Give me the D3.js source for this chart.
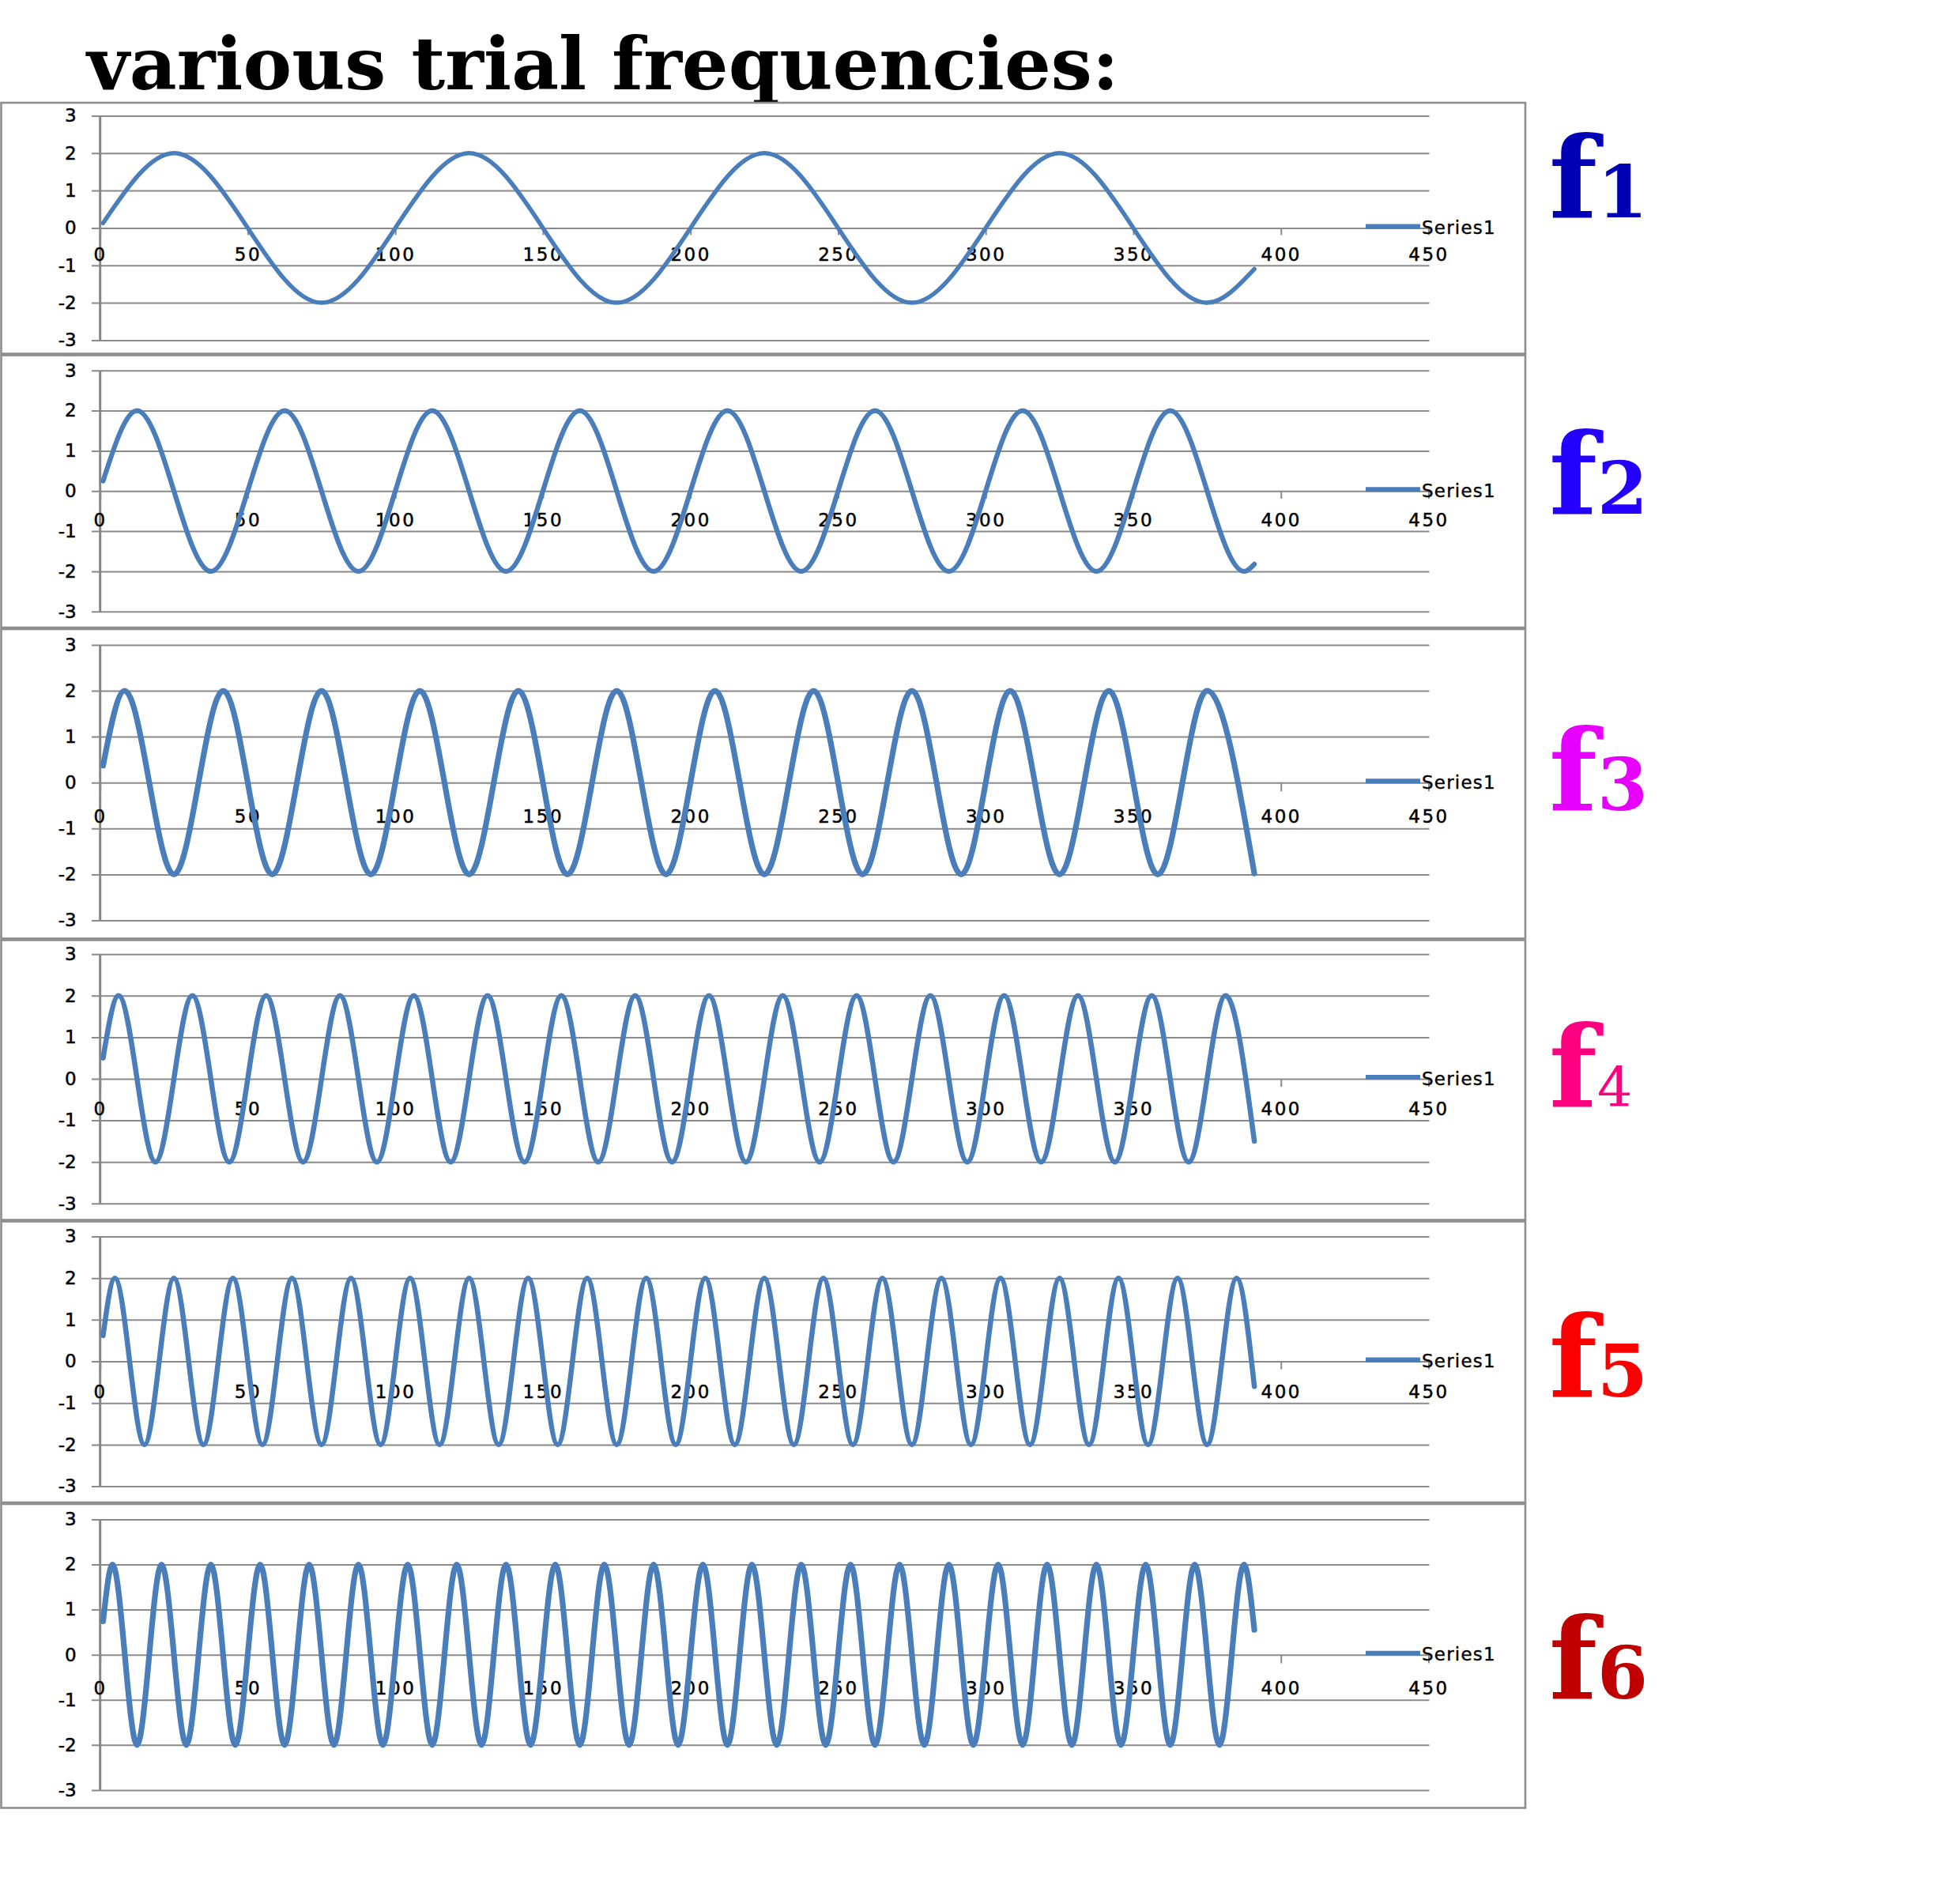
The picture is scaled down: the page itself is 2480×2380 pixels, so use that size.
<!DOCTYPE html>
<html><head><meta charset="utf-8">
<script src="https://cdn.jsdelivr.net/npm/d3@7"></script>
<style>html,body{margin:0;padding:0;background:#fff;} svg{display:block}</style>
</head><body>
<svg id="chart" width="2480" height="2380"></svg>
<script>
// ---------------- DATA ----------------
const titleText = "various trial frequencies:";
const xTickValues = [0, 50, 100, 150, 200, 250, 300, 350, 400, 450];
const yTickValues = [-3, -2, -1, 0, 1, 2, 3];
const seriesName = "Series1";
const panelLetter = "f";
const panelDigits = ["1", "2", "3", "4", "5", "6"];

// key points: start, every crest/trough, end
const f1X = [1, 25, 75, 125, 175, 225, 275, 325, 375, 391];
const f1Y = [0.13, 2, -2, 2, -2, 2, -2, 2, -2, -1.1];

const f2X = [1, 12.5, 37.5, 62.5, 87.5, 112.5, 137.5, 162.5, 187.5, 212.5, 237.5, 262.5, 287.5, 312.5, 337.5, 362.5, 387.5, 391];
const f2Y = [0.25, 2, -2, 2, -2, 2, -2, 2, -2, 2, -2, 2, -2, 2, -2, 2, -2, -1.82];

const f3X = [1, 8.3, 25, 41.7, 58.3, 75, 91.7, 108.3, 125, 141.7, 158.3, 175, 191.7, 208.3, 225, 241.7, 258.3, 275, 291.7, 308.3, 325, 341.7, 358.3, 375, 391];
const f3Y = [0.37, 2, -2, 2, -2, 2, -2, 2, -2, 2, -2, 2, -2, 2, -2, 2, -2, 2, -2, 2, -2, 2, -2, 2, -1.98];

const f4X = [1, 6.25, 18.75, 31.25, 43.75, 56.25, 68.75, 81.25, 93.75, 106.25, 118.75, 131.25, 143.75, 156.25, 168.75, 181.25, 193.75, 206.25, 218.75, 231.25, 243.75, 256.25, 268.75, 281.25, 293.75, 306.25, 318.75, 331.25, 343.75, 356.25, 368.75, 381.25, 391];
const f4Y = [0.5, 2, -2, 2, -2, 2, -2, 2, -2, 2, -2, 2, -2, 2, -2, 2, -2, 2, -2, 2, -2, 2, -2, 2, -2, 2, -2, 2, -2, 2, -2, 2, -1.5];

const f5X = [1, 5, 15, 25, 35, 45, 55, 65, 75, 85, 95, 105, 115, 125, 135, 145, 155, 165, 175, 185, 195, 205, 215, 225, 235, 245, 255, 265, 275, 285, 295, 305, 315, 325, 335, 345, 355, 365, 375, 385, 391];
const f5Y = [0.62, 2, -2, 2, -2, 2, -2, 2, -2, 2, -2, 2, -2, 2, -2, 2, -2, 2, -2, 2, -2, 2, -2, 2, -2, 2, -2, 2, -2, 2, -2, 2, -2, 2, -2, 2, -2, 2, -2, 2, -0.6];

const f6X = [1, 4.2, 12.5, 20.8, 29.2, 37.5, 45.8, 54.2, 62.5, 70.8, 79.2, 87.5, 95.8, 104.2, 112.5, 120.8, 129.2, 137.5, 145.8, 154.2, 162.5, 170.8, 179.2, 187.5, 195.8, 204.2, 212.5, 220.8, 229.2, 237.5, 245.8, 254.2, 262.5, 270.8, 279.2, 287.5, 295.8, 304.2, 312.5, 320.8, 329.2, 337.5, 345.8, 354.2, 362.5, 370.8, 379.2, 387.5, 391];
const f6Y = [0.74, 2, -2, 2, -2, 2, -2, 2, -2, 2, -2, 2, -2, 2, -2, 2, -2, 2, -2, 2, -2, 2, -2, 2, -2, 2, -2, 2, -2, 2, -2, 2, -2, 2, -2, 2, -2, 2, -2, 2, -2, 2, -2, 2, -2, 2, -2, 2, 0.55];

const seriesX = [f1X, f2X, f3X, f4X, f5X, f6X];
const seriesY = [f1Y, f2Y, f3Y, f4Y, f5Y, f6Y];

// ---------------- LAYOUT / STYLE ----------------
const layout = [
  {top: 130,   bottom: 447.5,  yTop: 146.4,  yBot: 430.4,  base: 275,  sw: 5.5, color: "#0000b4", dSize: 92, dWeight: "bold"},
  {top: 449.5, bottom: 794,    yTop: 468.7,  yBot: 773.8,  base: 650,  sw: 6.2, color: "#2400ff", dSize: 92, dWeight: "bold"},
  {top: 796,   bottom: 1187.5, yTop: 815.9,  yBot: 1164.5, base: 1025, sw: 7.2, color: "#e800ff", dSize: 92, dWeight: "bold"},
  {top: 1189.5,bottom: 1543.5, yTop: 1207.3, yBot: 1522.7, base: 1400, sw: 6.5, color: "#ff0080", dSize: 70, dWeight: "normal"},
  {top: 1545.5,bottom: 1901,   yTop: 1564.5, yBot: 1880.6, base: 1767, sw: 6.5, color: "#fa0000", dSize: 92, dWeight: "bold"},
  {top: 1903,  bottom: 2287.5, yTop: 1922.4, yBot: 2264.9, base: 2149, sw: 7.2, color: "#c00000", dSize: 92, dWeight: "bold"}
];
const FRAME_L = 1.5, FRAME_R = 1930;
const AXIS_X0 = 126.7, AXIS_X1 = 1807.5, GRID_X0 = 116;
const LABEL_RIGHT = 96.7;
const LINE_COLOR = "#4a7ebb";
const GRID_COLOR = "#8a8a8a";
const SANS = "'DejaVu Sans', Verdana, sans-serif";
const SERIF = "'DejaVu Serif', serif";

const svg = d3.select("#chart");
svg.append("rect").attr("width", 2480).attr("height", 2380).attr("fill", "#fff");

svg.append("text")
  .attr("x", 110).attr("y", 113)
  .attr("font-family", SERIF).attr("font-weight", "bold").attr("font-size", 92)
  .attr("textLength", 1306).attr("lengthAdjust", "spacingAndGlyphs")
  .attr("fill", "#000")
  .text(titleText);

const x = d3.scaleLinear().domain([0, 450]).range([AXIS_X0, AXIS_X1]);

layout.forEach((L, i) => {
  const g = svg.append("g");
  g.append("rect")
    .attr("x", FRAME_L).attr("y", L.top)
    .attr("width", FRAME_R - FRAME_L).attr("height", L.bottom - L.top)
    .attr("fill", "#fff").attr("stroke", "#8e8e8e").attr("stroke-width", 2.6);

  const y = d3.scaleLinear().domain([-3, 3]).range([L.yBot, L.yTop]);
  const unit = (L.yBot - L.yTop) / 6;

  // y axis + horizontal gridlines
  const yAxis = d3.axisLeft(y)
    .tickValues(yTickValues)
    .tickSize(-(AXIS_X1 + 1 - GRID_X0))
    .tickPadding(GRID_X0 - LABEL_RIGHT)
    .tickFormat(d => String(d));
  const ya = g.append("g").attr("transform", `translate(${GRID_X0},0)`).call(yAxis);
  ya.select(".domain").remove();
  ya.selectAll("line").attr("stroke", GRID_COLOR).attr("stroke-width", 2);
  ya.selectAll("text").attr("font-family", SANS).attr("font-size", 23)
    .attr("fill", "#000").attr("stroke", "#000").attr("stroke-width", 0.5);

  // vertical axis line
  g.append("line")
    .attr("x1", AXIS_X0).attr("x2", AXIS_X0)
    .attr("y1", L.yTop).attr("y2", L.yBot)
    .attr("stroke", "#868686").attr("stroke-width", 3);

  // x axis crossing at 0
  const tick = unit * 0.19;
  const xAxis = d3.axisBottom(x)
    .tickValues(xTickValues)
    .tickSize(tick)
    .tickPadding(unit * 0.88 - tick - 16.3)
    .tickFormat(d => String(d));
  const xa = g.append("g").attr("transform", `translate(0,${y(0)})`).call(xAxis);
  xa.select(".domain").remove();
  xa.selectAll("line").attr("stroke", GRID_COLOR).attr("stroke-width", 2);
  xa.selectAll("text").attr("font-family", SANS).attr("font-size", 23)
    .attr("letter-spacing", 2.6).attr("fill", "#000")
    .attr("stroke", "#000").attr("stroke-width", 0.5);

  // series
  const pts = d3.zip(seriesX[i], seriesY[i]);
  const line = d3.line().x(d => x(d[0])).y(d => y(d[1])).curve(d3.curveMonotoneX);
  g.append("path").datum(pts)
    .attr("d", line)
    .attr("fill", "none").attr("stroke", LINE_COLOR)
    .attr("stroke-width", L.sw).attr("stroke-linecap", "round").attr("stroke-linejoin", "round");

  // legend
  g.append("line")
    .attr("x1", 1728).attr("x2", 1797)
    .attr("y1", y(0) - 2).attr("y2", y(0) - 2)
    .attr("stroke", LINE_COLOR).attr("stroke-width", 6);
  g.append("text")
    .attr("x", 1799).attr("y", y(0) + 7.5)
    .attr("font-family", SANS).attr("font-size", 23).attr("letter-spacing", 1.2)
    .attr("fill", "#000").attr("stroke", "#000").attr("stroke-width", 0.4)
    .text(seriesName);

  // f label
  const t = svg.append("text")
    .attr("x", 1960).attr("y", L.base)
    .attr("font-family", SERIF).attr("fill", L.color);
  t.append("tspan").attr("font-size", 142).attr("font-weight", "bold").text(panelLetter);
  t.append("tspan").attr("font-size", L.dSize).attr("font-weight", L.dWeight).text(panelDigits[i]);
});
</script>
</body></html>
